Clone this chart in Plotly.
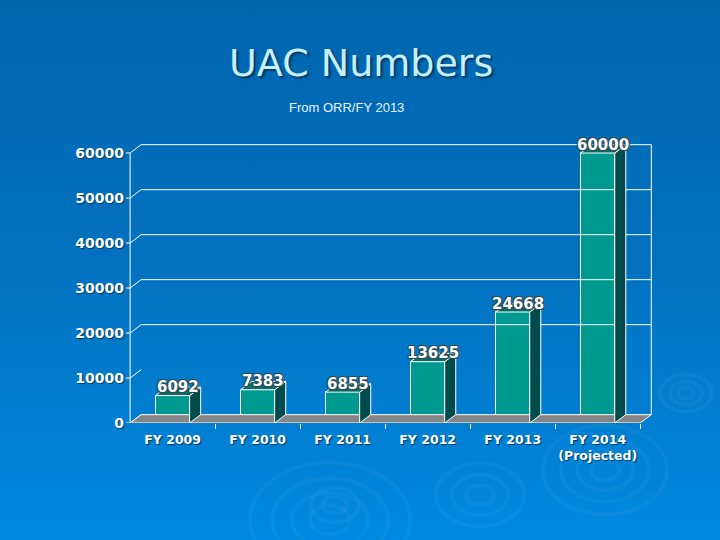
import base64
import plotly.graph_objects as go

# ---------------- data ----------------
categories = ["FY 2009", "FY 2010", "FY 2011", "FY 2012", "FY 2013", "FY 2014<br>(Projected)"]
values = [6092, 7383, 6855, 13625, 24668, 60000]
bar_labels = ["6092", "7383", "6855", "13625", "24668", "60000"]
y_ticks = [0, 10000, 20000, 30000, 40000, 50000, 60000]
y_tick_labels = ["0", "10000", "20000", "30000", "40000", "50000", "60000"]

# ---------------- geometry / style ----------------
DX = 0.13      # depth offset in category units
DY = 1850      # depth offset in value units
HALF = 0.2     # half bar width
N = len(categories)
centers = [i + 0.5 for i in range(N)]

FRONT = "#00998f"
SIDE = "#004b4b"
TOP = "#0c6a64"
FLOOR = "#858585"
WHITE = "#ffffff"

L, R, T, B = 125, 67, 144, 117
PW = 720 - L - R
PH = 540 - T - B

# background gradient with faint ripples (SVG)
ripples = [(330, 520, [20, 38, 58, 80]), (335, 505, [12, 24]), (480, 495, [14, 28, 44]),
           (605, 470, [14, 28, 44, 62]), (686, 393, [8, 16, 26])]
circles = ""
for cx, cy, rs in ripples:
    for r in rs:
        circles += (f'<ellipse cx="{cx}" cy="{cy}" rx="{r}" ry="{r*0.72:.1f}" fill="none" '
                    f'stroke="#ffffff" stroke-opacity="0.04" stroke-width="4"/>')
svg = f'''<svg xmlns="http://www.w3.org/2000/svg" width="720" height="540" viewBox="0 0 720 540">
<defs><linearGradient id="g" x1="0" y1="0" x2="0" y2="1">
<stop offset="0" stop-color="#0065ad"/><stop offset="0.5" stop-color="#0272c0"/>
<stop offset="1" stop-color="#0089e0"/></linearGradient></defs>
<rect width="720" height="540" fill="url(#g)"/>{circles}</svg>'''
bg_src = "data:image/svg+xml;base64," + base64.b64encode(svg.encode()).decode()

fig = go.Figure()

# back wall gridlines, diagonals and tick marks
gx, gy = [], []
for v in y_ticks:
    gx += [-0.05, 0, DX]
    gy += [v, v, v + DY]
    if v >= 20000:
        gx += [6 + DX]
        gy += [v + DY]
    gx.append(None); gy.append(None)
gx += [6 + DX, 6 + DX, None, 0, 0]
gy += [DY, 60000 + DY, None, 0, 60000]
fig.add_trace(go.Scatter(x=gx, y=gy, mode="lines", line=dict(color=WHITE, width=1),
                         hoverinfo="skip", showlegend=False))

# floor
fig.add_trace(go.Scatter(x=[0, 6, 6 + DX, DX, 0], y=[0, 0, DY, DY, 0], mode="lines",
                         fill="toself", fillcolor=FLOOR, line=dict(color=WHITE, width=1),
                         hoverinfo="skip", showlegend=False))

# bar front faces
fig.add_trace(go.Bar(x=centers, y=values, width=2 * HALF,
                     marker=dict(color=FRONT, line=dict(color=WHITE, width=1)),
                     hoverinfo="skip", showlegend=False))

# side and top faces
sx, sy, tx, ty = [], [], [], []
for c, v in zip(centers, values):
    sx += [c + HALF, c + HALF + DX, c + HALF + DX, c + HALF, c + HALF, None]
    sy += [0, DY, v + DY, v, 0, None]
    tx += [c - HALF, c + HALF, c + HALF + DX, c - HALF + DX, c - HALF, None]
    ty += [v, v, v + DY, v + DY, v, None]
fig.add_trace(go.Scatter(x=sx, y=sy, mode="lines", fill="toself", fillcolor=SIDE,
                         line=dict(color=WHITE, width=1), hoverinfo="skip", showlegend=False))
fig.add_trace(go.Scatter(x=tx, y=ty, mode="lines", fill="toself", fillcolor=TOP,
                         line=dict(color=WHITE, width=1), hoverinfo="skip", showlegend=False))

outline = "-1px -1px 0 #2a4a55, 1px -1px 0 #2a4a55, -1px 1px 0 #2a4a55, 1px 1px 0 #2a4a55"
for c, v, lab in zip(centers, values, bar_labels):
    fig.add_annotation(x=c + DX / 2, y=v + DY, text=lab, showarrow=False, yanchor="middle",
                       font=dict(family="DejaVu Sans", size=15, color=WHITE, weight="bold",
                                 shadow=outline))

# title & subtitle
fig.add_annotation(x=(361 - L) / PW, y=(540 - B - 63) / PH, xref="paper", yref="paper",
                   text="UAC Numbers", showarrow=False, yanchor="middle",
                   font=dict(family="DejaVu Sans", size=38, color="#c8efff",
                             shadow="2px 2px 2px #003a66"))
fig.add_annotation(x=(346 - L) / PW, y=(540 - B - 107) / PH, xref="paper", yref="paper",
                   text="From ORR/FY 2013", showarrow=False, yanchor="middle",
                   font=dict(family="Liberation Sans", size=13, color="#e6f4ff"))

fig.update_layout(
    width=720, height=540,
    margin=dict(l=L, r=R, t=T, b=B),
    paper_bgcolor="#0272c0", plot_bgcolor="rgba(0,0,0,0)",
    images=[dict(source=bg_src, xref="paper", yref="paper", x=-L / PW, y=(540 - B) / PH,
                 sizex=720 / PW, sizey=540 / PH, sizing="stretch", xanchor="left",
                 yanchor="top", layer="below")],
    xaxis=dict(range=[-0.06, 6.15], tickvals=centers, ticktext=categories,
               showgrid=False, zeroline=False, showline=False, ticks="",
               ticklabelstandoff=7,
               tickfont=dict(family="DejaVu Sans", size=12.5, color=WHITE, weight="bold",
                             shadow="1px 1px 1px #003a66"),
               minor=dict(tickvals=[1, 2, 3, 4, 5, 6], ticks="outside", ticklen=5,
                          tickcolor=WHITE, tickwidth=1)),
    yaxis=dict(range=[0, 62000], tickvals=y_ticks, ticktext=y_tick_labels,
               showgrid=False, zeroline=False, showline=False, ticks="",
               tickfont=dict(family="DejaVu Sans", size=14, color=WHITE, weight="bold",
                             shadow="1px 1px 1px #003a66")),
    bargap=0,
)

fig.write_html("out.html")
